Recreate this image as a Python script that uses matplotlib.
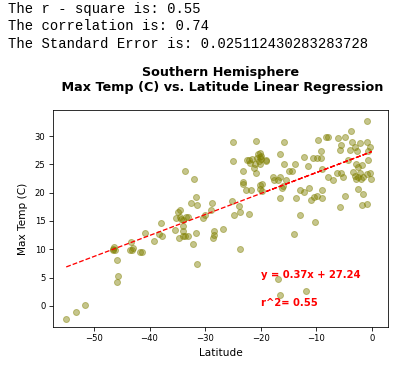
import numpy as np
import matplotlib
matplotlib.use('Agg')
from matplotlib import pyplot as plt

# printed regression stats shown above the chart
stats_lines = ["The r - square is: 0.55",
               "The correlation is: 0.74",
               "The Standard Error is: 0.025112430283283728"]

slope = 0.37
intercept = 27.24
line_eq = "y = 0.37x + 27.24"
r_text = "r^2= 0.55"

lat = [-55.0, -53.3, -51.7, -46.6, -46.4, -46.2, -46.5, -45.9, -45.6, -45.9,
       -43.4, -43.6, -42.9, -43.1, -41.8, -41.3, -40.9, -39.2, -38.0, -38.3,
       -37.7, -35.5, -34.7, -34.0, -33.7, -33.1, -34.0, -34.0, -31.7, -32.1,
       -31.5, -28.6, -28.4, -28.4, -26.7, -23.8, -16.9, -16.6, -11.9, -10.2,
       -14.0, -12.9,
       -35.2, -34.6, -34.0, -33.4, -34.3, -33.1, -34.6, -34.8, -33.6, -32.0,
       -32.5, -31.6, -31.4, -30.1, -30.3, -28.8, -28.9, -25.2, -24.8, -23.9,
       -23.8, -22.1, -24.9, -24.9, -20.9, -23.2, -23.1, -23.2, -22.7, -21.8,
       -22.5, -22.0, -21.5, -21.2, -20.8, -21.0, -20.5, -20.2, -20.0, -20.6,
       -20.3, -20.2, -19.7, -20.2, -19.9, -19.1, -20.2, -16.6, -15.8, -15.8,
       -13.8, -14.9, -14.3, -17.8, -17.6, -16.9, -16.6, -15.5, -20.2, -16.0,
       -16.2, -19.7, -16.6, -12.9, -12.2, -11.3, -13.7, -11.0, -10.4, -9.9,
       -9.0, -8.9, -12.2, -11.4, -10.6, -9.9, -9.2, -9.2, -9.6, -8.3,
       -7.8, -8.9, -7.9, -6.9, -6.2, -5.5, -5.1, -6.0, -4.9, -5.5,
       -5.7, -3.9, -3.7, -3.6, -3.1, -2.7, -2.1, -0.9, -0.8, -0.6,
       -0.3, -4.2, -2.8, -2.4, -1.8, -0.6, -3.3, -3.0, -2.5, -2.1,
       -1.5, -0.9, -0.3, -0.1, -2.8, -1.9, -2.4, -4.9, -5.7, -1.5,
       -1.8, -0.8, -22.1, -19.0]

max_temp = [-2.3, -1.1, 0.2, 9.9, 10.4, 9.8, 10.1, 8.2, 5.3, 4.2,
            11.3, 9.9, 10.2, 9.8, 9.6, 9.6, 12.9, 11.4, 14.7, 12.7,
            12.4, 13.4, 12.0, 12.4, 12.3, 12.3, 13.3, 14.2, 12.9, 11.0,
            7.4, 12.0, 12.6, 13.3, 13.6, 10.1, 4.8, 2.0, 2.7, 14.8,
            12.7, 16.0,
            15.5, 15.7, 15.2, 15.7, 15.4, 15.7, 16.9, 16.5, 23.8, 22.4,
            18.1, 19.3, 17.8, 16.0, 15.5, 18.2, 16.9, 18.6, 16.0, 17.7,
            16.6, 16.3, 29.0, 25.6, 29.2, 23.8, 21.8, 21.5, 20.4, 20.4,
            25.7, 25.3, 26.0, 24.3, 23.5, 25.0, 26.8, 27.0, 26.5, 26.2,
            25.6, 20.7, 21.6, 26.3, 26.0, 25.6, 25.1, 26.9, 29.0, 25.0,
            25.1, 23.8, 23.8, 22.7, 22.2, 22.3, 22.8, 22.3, 21.4, 21.2,
            20.9, 20.3, 19.1, 20.4, 20.2, 20.9, 19.0, 18.7, 19.3, 19.4,
            19.1, 20.5, 26.3, 24.7, 26.1, 26.1, 26.1, 27.4, 29.3, 29.9,
            29.9, 24.1, 22.8, 22.3, 23.4, 23.4, 22.8, 29.6, 29.9, 28.5,
            27.5, 27.5, 30.8, 29.0, 28.1, 27.3, 28.7, 29.0, 32.6, 27.4,
            28.0, 25.8, 25.1, 24.6, 24.8, 25.8, 23.6, 23.0, 22.8, 23.4,
            22.8, 23.3, 23.4, 22.5, 22.5, 22.5, 20.7, 19.4, 17.5, 19.7,
            17.8, 18.0, 25.8, 25.7]

x = np.array(lat)
y = np.array(max_temp)
regress = x * slope + intercept

fig = plt.figure(figsize=(410 / 72, 369 / 72), dpi=72)
ax = fig.add_axes([0.129, 0.114, 0.817, 0.588])

for i, s in enumerate(stats_lines):
    fig.text(0.02, 0.995 - i * 0.047, s, family='Liberation Mono',
             fontsize=13.9, va='top', ha='left')

ax.scatter(x, y, marker='o', color='olive', alpha=0.45, s=36)
ax.plot(x, regress, 'r--', linewidth=1.3)
ax.annotate(line_eq, (-20, 5), fontsize=10, color='red', weight='bold')
ax.annotate(r_text, (-20, 0), fontsize=10, color='red', weight='bold')

ax.set_xlim(-57.4, 2.9)
ax.set_ylim(-3.7, 34.6)
ax.set_xlabel('Latitude', fontsize=10.5, labelpad=5)
ax.set_ylabel('Max Temp (C)', fontsize=10.5, labelpad=7)
ax.set_title('Southern Hemisphere\n Max Temp (C) vs. Latitude Linear Regression',
             fontsize=12.8, weight='bold', pad=19)
ax.tick_params(labelsize=8.5, length=4)

fig.savefig('out.png', dpi=72)
